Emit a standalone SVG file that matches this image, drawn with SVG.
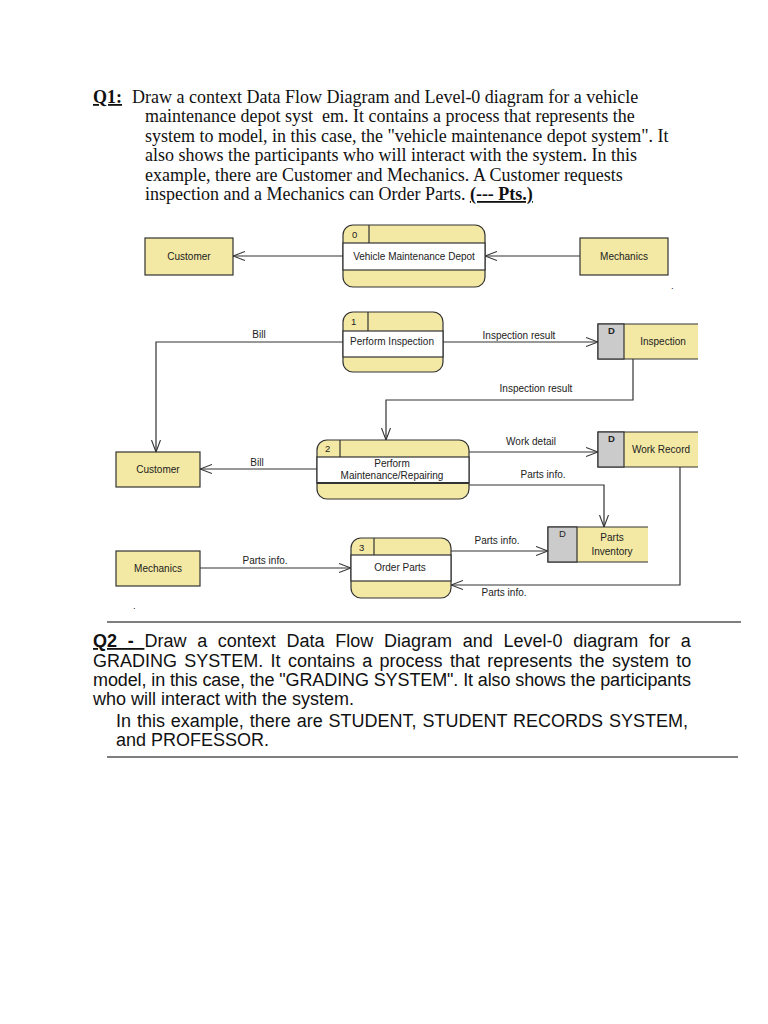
<svg xmlns="http://www.w3.org/2000/svg" width="768" height="1024" viewBox="0 0 768 1024">
<style>
.ent{fill:#f3e9a4;stroke:#333;stroke-width:1.2}
.proc{fill:#f3e9a4;stroke:#333;stroke-width:1.2}
.band{fill:#fff;stroke:#333;stroke-width:1.2}
.gray{fill:#cbcbcb;stroke:#333;stroke-width:1.2}
.sty{fill:#f3e9a4;stroke:none}
.edge{stroke:#333;stroke-width:1.2;fill:none}
.lbl{font-family:"Liberation Sans",Arial,sans-serif;font-size:10px;fill:#222;text-anchor:middle}
.num{font-family:"Liberation Sans",Arial,sans-serif;font-size:9.5px;fill:#222}
.tq1{font-family:"Liberation Serif","Times New Roman",serif;font-size:18px;fill:#111}
.tq2{font-family:"Liberation Sans",Arial,sans-serif;font-size:18px;fill:#111}
.rule{stroke:#555;stroke-width:1.6}
</style>
<defs>
<marker id="arr" viewBox="0 0 12 10" refX="12" refY="5" markerWidth="12" markerHeight="10" markerUnits="userSpaceOnUse" orient="auto">
<path d="M0,0.5 L12,5 L0,9.5" fill="none" stroke="#333" stroke-width="1.1"/>
</marker>
</defs>
<rect width="768" height="1024" fill="#fff"/>

<g id="q1-text">
<text class="tq1" x="93" y="103"><tspan font-weight="bold" text-decoration="underline">Q1:</tspan></text>
<text class="tq1" x="132" y="103">Draw a context Data Flow Diagram and Level-0 diagram for a vehicle</text>
<text class="tq1" x="145" y="122" xml:space="preserve">maintenance depot syst  em. It contains a process that represents the</text>
<text class="tq1" x="145" y="142">system to model, in this case, the "vehicle maintenance depot system". It</text>
<text class="tq1" x="145" y="161">also shows the participants who will interact with the system. In this</text>
<text class="tq1" x="145" y="181">example, there are Customer and Mechanics. A Customer requests</text>
<text class="tq1" x="145" y="200">inspection and a Mechanics can Order Parts. <tspan font-weight="bold" text-decoration="underline">(--- Pts.)</tspan></text>
</g>

<g id="connectors">
<path class="edge" d="M343,256 H233" marker-end="url(#arr)"/>
<path class="edge" d="M580,256 H485" marker-end="url(#arr)"/>
<path class="edge" d="M343,342 H156 V452" marker-end="url(#arr)"/>
<path class="edge" d="M443,342 H598" marker-end="url(#arr)"/>
<path class="edge" d="M633,359 V400 H386 V440" marker-end="url(#arr)"/>
<path class="edge" d="M317,469 H200" marker-end="url(#arr)"/>
<path class="edge" d="M469,452 H598" marker-end="url(#arr)"/>
<path class="edge" d="M469,485 H604 V527" marker-end="url(#arr)"/>
<path class="edge" d="M680,467 V585 H451" marker-end="url(#arr)"/>
<path class="edge" d="M200,568 H351" marker-end="url(#arr)"/>
<path class="edge" d="M451,551 H548" marker-end="url(#arr)"/>
<text class="lbl" x="259" y="338">Bill</text>
<text class="lbl" x="519" y="339">Inspection result</text>
<text class="lbl" x="536" y="392">Inspection result</text>
<text class="lbl" x="257" y="466">Bill</text>
<text class="lbl" x="531" y="445">Work detail</text>
<text class="lbl" x="543" y="478">Parts info.</text>
<text class="lbl" x="504" y="596">Parts info.</text>
<text class="lbl" x="265" y="564">Parts info.</text>
<text class="lbl" x="497" y="544">Parts info.</text>
</g>

<g id="customer-ctx">
<rect class="ent" x="145" y="238" width="88" height="37"/>
<text class="lbl" x="189" y="260">Customer</text>
</g>
<g id="process-0">
<rect class="proc" x="343" y="225" width="142" height="62" rx="10"/>
<rect class="band" x="343" y="243" width="142" height="27"/>
<line class="edge" x1="369" y1="225" x2="369" y2="243"/>
<text class="num" x="352" y="238">0</text>
<text class="lbl" x="414" y="260">Vehicle Maintenance Depot</text>
</g>
<g id="mechanics-ctx">
<rect class="ent" x="580" y="238" width="88" height="37"/>
<text class="lbl" x="624" y="260">Mechanics</text>
</g>
<text class="num" x="671" y="289">.</text>

<g id="process-1">
<rect class="proc" x="343" y="312" width="100" height="60" rx="10"/>
<rect class="band" x="343" y="331" width="100" height="26"/>
<line class="edge" x1="368" y1="312" x2="368" y2="331"/>
<text class="num" x="351" y="325">1</text>
<text class="lbl" x="392" y="345">Perform Inspection</text>
</g>
<g id="store-inspection">
<rect class="sty" x="598" y="324" width="100" height="35"/>
<path class="edge" d="M698,324 H598 V359 H698"/>
<rect class="gray" x="598" y="324" width="26" height="35"/>
<text class="num" x="608" y="334" font-weight="bold" font-size="8.5">D</text>
<text class="lbl" x="663" y="345">Inspection</text>
</g>
<g id="process-2">
<rect class="proc" x="317" y="440" width="152" height="59" rx="10"/>
<rect class="band" x="317" y="457" width="152" height="26"/>
<line x1="317" y1="483" x2="469" y2="483" stroke="#333" stroke-width="2"/>
<line class="edge" x1="340" y1="440" x2="340" y2="457"/>
<text class="num" x="325" y="452">2</text>
<text class="lbl" x="392" y="467">Perform</text>
<text class="lbl" x="392" y="479">Maintenance/Repairing</text>
</g>
<g id="customer">
<rect class="ent" x="116" y="452" width="84" height="35"/>
<text class="lbl" x="158" y="473">Customer</text>
</g>
<g id="store-work-record">
<rect class="sty" x="598" y="432" width="100" height="35"/>
<path class="edge" d="M698,432 H598 V467 H698"/>
<rect class="gray" x="598" y="432" width="26" height="35"/>
<text class="num" x="608" y="442" font-weight="bold" font-size="8.5">D</text>
<text class="lbl" x="661" y="453">Work Record</text>
</g>
<g id="store-parts-inventory">
<rect class="sty" x="548" y="527" width="100" height="35"/>
<path class="edge" d="M648,527 H548 V562 H648"/>
<rect class="gray" x="548" y="527" width="29" height="35"/>
<text class="num" x="559" y="537" font-size="8.5">D</text>
<text class="lbl" x="612" y="541">Parts</text>
<text class="lbl" x="612" y="555">Inventory</text>
</g>
<g id="process-3">
<rect class="proc" x="351" y="538" width="100" height="60" rx="10"/>
<rect class="band" x="351" y="555" width="100" height="26"/>
<line class="edge" x1="374" y1="538" x2="374" y2="555"/>
<text class="num" x="359" y="551">3</text>
<text class="lbl" x="400" y="571">Order Parts</text>
</g>
<g id="mechanics">
<rect class="ent" x="116" y="551" width="84" height="35"/>
<text class="lbl" x="158" y="572">Mechanics</text>
</g>
<text class="num" x="133" y="609">.</text>

<line class="rule" x1="107" y1="622" x2="741" y2="622"/>

<g id="q2-text">
<text class="tq2" x="93" y="647" word-spacing="5.7" xml:space="preserve"><tspan font-weight="bold" text-decoration="underline">Q2 - </tspan>Draw a context Data Flow Diagram and Level-0 diagram for a</text>
<text class="tq2" x="93" y="667" word-spacing="2.3">GRADING SYSTEM. It contains a process that represents the system to</text>
<text class="tq2" x="93" y="686" textLength="598" lengthAdjust="spacing">model, in this case, the "GRADING SYSTEM". It also shows the participants</text>
<text class="tq2" x="93" y="705">who will interact with the system.</text>
<text class="tq2" x="116" y="727" word-spacing="0.9">In this example, there are STUDENT, STUDENT RECORDS SYSTEM,</text>
<text class="tq2" x="116" y="746">and PROFESSOR.</text>
</g>

<line class="rule" x1="107" y1="757" x2="738" y2="757"/>
</svg>
